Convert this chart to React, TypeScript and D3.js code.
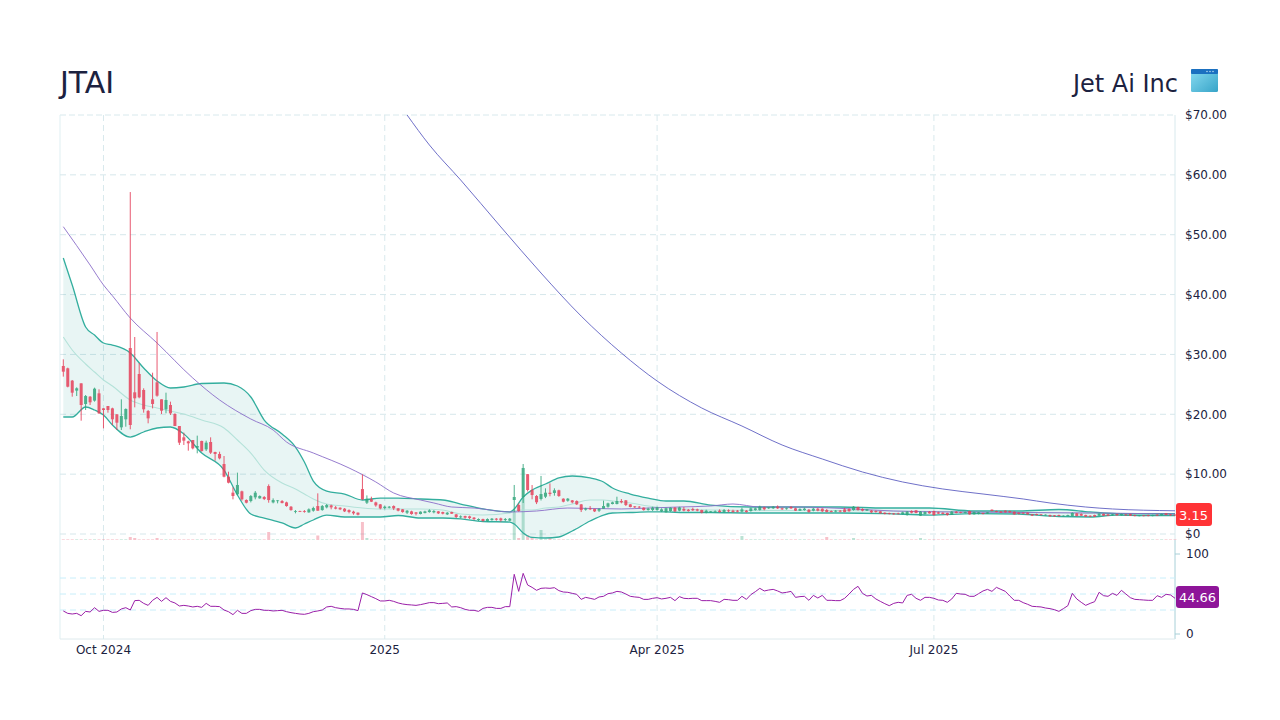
import * as d3 from "d3";

// daily candles, one entry per trading day
const opens = [
  28.07,27.68,25.62,23.95,25.17,21.72,22.94,22.28,23.5,20.99,21.38,20.99,19.99,17.82,19.16,31.07,23.67,26.73,24.06,20.55,
  22.5,25.34,22.5,20.83,21.55,20.05,18.04,16.15,15.48,15.7,14.42,15.54,14.14,15.37,13.7,13.37,11.69,9.58,6.91,6.63,7.13,5.68,
  5.51,6.12,5.95,6.18,8.01,5.28,5.51,5.51,5.28,4.56,3.73,3.84,3.84,3.61,3.89,4.67,4.0,4.45,4.78,4.45,4.39,4.23,4.0,3.73,3.56,
  7.51,5.23,5.79,5.28,4.95,4.34,4.39,4.67,4.28,4.12,3.56,3.78,3.61,3.34,3.5,3.67,
  3.62,3.78,3.67,3.28,3.67,3.28,2.78,3.0,2.95,2.73,2.33,2.5,2.17,2.33,2.56,2.61,2.33,2.22,
  5.68,4.84,6.18,10.0,7.35,6.35,5.85,6.23,6.9,6.85,7.3,5.9,5.56,5.62,5.51,4.95,4.06,4.28,4.17,3.9,
  4.23,4.56,5.01,5.01,5.51,5.62,4.95,4.62,4.56,4.4,4.0,
  4.01,4.01,3.79,3.62,3.84,4.4,3.9,4.18,4.06,4.18,4.12,4.01,3.56,3.62,3.67,3.9,3.67,3.95,3.9,3.9,
  3.73,3.9,3.84,4.01,4.01,4.45,4.29,4.29,4.56,4.29,4.18,4.51,4.29,3.9,4.01,4.06,3.9,4.23,4.23,4.01,
  3.84,3.73,3.9,4.12,4.18,4.01,4.51,4.18,3.9,3.9,3.84,3.79,3.56,
  3.51,3.45,3.45,3.34,3.17,3.84,3.95,3.06,3.34,3.73,3.84,3.62,3.56,3.51,3.23,3.73,3.67,3.51,3.84,3.28,
  3.34,3.51,3.4,4.06,3.84,3.78,3.9,3.84,3.73,3.56,3.56,3.56,3.28,
  3.34,3.28,3.12,3.17,3.12,3.17,2.95,3.0,3.0,3.45,3.34,3.17,3.06,3.17,3.06,3.34,3.28,3.12,3.34,3.12,
  3.28,3.34,3.17,3.0,3.12,3.17,3.0,3.23,3.12,3.45,3.28,3.23,
];
const highs = [
  29.18,27.79,25.73,24.5,25.17,23.22,23.05,24.45,24.17,20.99,21.38,21.1,20.05,22.5,20.99,57.13,32.91,28.57,24.34,20.72,
  26.95,33.75,22.5,23.61,22.11,20.16,18.04,16.93,15.59,15.7,16.43,15.59,15.59,16.15,13.75,13.75,13.03,10.41,7.8,10.25,7.24,5.79,
  6.51,7.18,6.45,6.34,8.29,5.95,5.67,5.67,5.4,4.67,4.0,3.89,4.0,4.28,4.56,6.79,4.84,5.01,4.9,4.67,4.45,4.34,4.12,3.89,3.61,
  9.96,6.45,6.23,5.4,5.01,4.73,4.67,4.78,4.34,4.17,4.0,3.89,3.67,3.78,3.89,4.12,
  4.0,3.84,3.73,3.67,3.73,3.34,3.11,3.06,3.06,2.84,2.61,2.56,2.61,2.67,2.67,2.73,2.67,2.67,
  8.19,5.12,11.69,10.0,8.18,6.51,9.7,7.63,8.46,7.63,7.4,5.96,6.01,5.68,5.62,5.01,4.4,4.67,4.28,4.34,
  5.57,5.23,5.4,6.23,5.84,5.68,5.01,4.67,4.67,4.45,4.4,
  4.56,4.56,4.29,4.4,4.45,4.51,4.56,4.51,4.18,4.4,4.23,4.06,4.06,3.84,3.95,4.12,4.18,4.12,4.06,4.01,
  4.4,4.01,4.4,4.4,4.73,4.56,4.51,4.67,4.78,4.4,4.4,4.67,4.4,4.29,4.4,4.18,4.34,4.34,4.29,4.18,
  3.95,4.01,4.01,4.4,4.29,4.67,4.56,4.29,4.18,4.01,3.95,3.84,3.62,
  3.56,3.51,3.56,3.73,3.84,3.95,4.01,3.84,3.78,3.84,3.9,3.73,3.62,3.56,3.84,3.84,3.73,3.73,3.9,3.73,
  3.67,3.56,3.67,4.12,3.9,3.84,3.95,3.9,3.78,3.62,3.62,3.62,3.34,
  3.4,3.34,3.28,3.23,3.17,3.23,3.12,3.23,3.62,3.51,3.45,3.23,3.12,3.23,3.45,3.45,3.34,3.34,3.4,3.4,
  3.34,3.4,3.23,3.17,3.17,3.23,3.23,3.28,3.4,3.51,3.34,3.28,
];
const lows = [
  26.29,24.5,22.94,23.05,18.93,20.72,21.55,22.11,20.05,17.65,20.27,18.21,17.37,17.37,17.93,17.49,21.16,22.67,20.27,18.49,
  20.99,22.94,20.05,20.16,19.88,18.04,14.87,14.87,13.92,14.14,13.48,13.75,13.87,13.37,12.25,12.47,9.47,8.46,5.79,6.46,5.57,5.12,
  5.28,5.79,5.9,5.67,5.23,5.12,5.12,5.12,4.56,3.89,3.45,3.67,3.56,3.56,3.73,3.89,3.89,4.28,4.12,4.12,4.0,3.67,3.45,3.22,3.11,
  5.67,5.01,5.34,4.56,4.12,4.12,4.28,4.0,3.78,3.56,3.34,3.22,3.11,3.28,3.45,3.56,
  3.45,3.34,3.28,3.17,3.34,2.67,2.61,2.56,2.5,2.33,2.17,2.06,2.06,2.22,2.22,2.06,2.11,2.11,
  3.67,3.73,5.18,7.1,5.8,5.0,5.6,6.0,6.3,6.4,6.2,5.29,5.4,5.12,4.84,3.67,3.9,4.0,3.67,3.67,
  4.23,4.4,4.95,4.95,5.12,4.67,4.45,4.34,4.28,3.9,3.9,
  3.84,3.9,3.67,3.56,3.73,3.67,3.79,3.79,3.73,3.84,3.79,3.45,3.45,3.56,3.56,3.56,3.56,3.62,3.56,3.62,
  3.62,3.56,3.73,3.9,3.9,3.95,4.18,4.18,4.18,4.01,4.06,4.18,3.84,3.84,3.9,3.56,3.79,3.79,3.67,3.62,
  3.62,3.62,3.62,3.62,3.73,3.9,3.9,3.79,3.84,3.51,3.56,3.4,3.28,
  3.28,3.23,3.28,3.28,3.06,3.45,3.45,3.0,3.28,3.4,3.06,3.34,3.28,3.06,3.17,3.45,3.45,3.45,3.23,3.23,
  3.28,3.28,3.34,3.78,3.62,3.51,3.56,3.56,3.23,3.28,3.34,3.23,3.0,
  3.12,3.12,3.06,2.89,2.89,2.95,2.89,2.95,2.95,2.95,3.0,2.84,2.84,2.84,3.0,3.0,3.0,3.06,3.06,3.06,
  3.06,3.0,2.95,2.95,2.95,2.95,2.95,3.0,3.06,3.12,3.06,3.06,
];
const closes = [
  27.12,24.61,23.61,24.34,21.55,23.05,22.0,24.28,20.16,20.72,20.72,19.16,18.6,19.71,20.88,18.21,22.67,22.83,20.83,19.32,
  21.72,23.11,20.6,22.39,20.16,18.04,15.26,15.59,15.15,14.31,14.7,13.87,15.26,13.59,13.37,12.64,9.58,8.57,6.35,8.19,5.79,5.23,
  6.34,6.9,6.34,5.84,5.67,5.67,5.62,5.17,4.67,4.0,3.84,3.73,3.73,4.12,4.34,3.89,4.67,4.84,4.45,4.23,4.12,3.78,3.67,3.45,3.22,
  5.79,5.9,5.4,4.78,4.28,4.56,4.56,4.28,3.89,3.67,3.89,3.34,3.39,3.73,3.78,3.95,
  3.84,3.45,3.39,3.56,3.39,2.84,2.95,2.73,2.67,2.5,2.5,2.17,2.5,2.56,2.39,2.28,2.5,2.56,
  6.18,3.84,11.03,7.35,6.51,5.3,6.68,6.9,6.68,7.3,6.35,5.4,5.9,5.29,4.95,4.0,4.28,4.12,3.78,4.17,
  4.67,5.12,5.29,5.51,5.29,4.84,4.51,4.45,4.45,4.0,4.23,
  4.4,4.45,4.12,4.29,4.4,3.79,4.45,3.9,3.84,3.95,3.9,3.56,3.9,3.79,3.79,3.67,4.01,3.79,3.67,3.73,
  4.12,3.67,4.29,4.29,4.56,4.12,4.45,4.56,4.29,4.12,4.29,4.29,3.9,4.18,4.23,3.67,4.23,3.9,3.79,3.67,
  3.67,3.9,3.73,3.67,3.79,4.56,4.01,3.9,4.12,3.62,3.67,3.45,3.34,
  3.34,3.28,3.34,3.62,3.73,3.56,3.51,3.73,3.67,3.45,3.17,3.4,3.34,3.17,3.73,3.51,3.56,3.67,3.28,3.67,
  3.62,3.34,3.62,3.84,3.67,3.56,3.62,3.62,3.28,3.34,3.4,3.28,3.06,
  3.17,3.17,3.23,2.95,2.95,3.0,3.06,3.17,3.51,3.0,3.06,2.89,2.89,2.89,3.4,3.06,3.06,3.28,3.12,3.34,
  3.12,3.06,3.0,3.12,3.0,3.0,3.17,3.06,3.34,3.17,3.12,3.15,
];

// traded volume in arbitrary units, only the days that stand out
const baseVolume = 1;
const volumeDays = [15, 16, 21, 46, 57, 67, 68, 101, 102, 103, 104, 105, 107, 109, 152, 171, 177, 192];
const volumeValues = [3, 2, 2, 8, 4.5, 18, 2, 30, 2, 43, 5, 2, 10, 2, 4, 3, 2, 2];

// bollinger bands, read at these days
const bandDays = [
  0,2,5,7,9,11,15,18,21,24,27,31,36,39,42,45,49,52,54,56,59,63,67,71,75,80,85,89,94,100,
  101,103,105,108,111,114,118,121,123,127,131,135,139,145,154,164,174,184,194,204,214,223,230,236,242,249,
];
const bandUpper = [
  46.11,41.6,34.58,33.24,31.91,31.57,30.24,27.73,25.56,24.39,24.56,25.14,25.23,24.72,22.89,19.04,16.71,14.53,12.03,8.85,
  7.18,6.68,5.68,6.01,6.01,5.85,5.68,5.01,4.18,3.68,4.18,6.18,7.35,8.35,9.36,9.69,9.36,8.69,7.68,6.68,
  6.01,5.51,5.51,4.84,4.51,4.51,4.51,4.34,4.34,3.84,3.84,4.09,3.68,3.42,3.42,3.42,
];
const bandMiddle = [
  32.91,30.74,28.4,27.06,25.73,24.72,22.39,21.55,21.05,20.55,20.05,19.04,17.71,15.7,13.53,10.69,8.52,7.52,6.68,5.85,
  5.01,4.68,4.34,4.18,4.18,4.18,4.01,3.34,3.17,3.51,3.84,4.01,4.01,4.34,4.51,5.01,5.68,5.68,5.51,5.18,
  4.68,4.34,4.18,4.01,3.93,3.93,3.93,3.84,3.76,3.68,3.59,3.51,3.42,3.34,3.34,3.26,
];
const bandLower = [
  19.55,19.55,21.22,20.72,19.88,18.21,16.2,17.04,17.71,17.88,16.71,13.53,10.69,6.52,3.34,2.67,1.84,1.0,1.67,2.34,
  3.17,2.84,2.84,2.84,3.09,2.67,2.67,2.51,2.09,2.0,1.67,0.17,-0.58,-0.67,-0.5,0.5,2.17,3.17,3.51,3.59,
  3.68,3.68,3.59,3.59,3.51,3.51,3.51,3.42,3.17,3.42,3.34,2.92,2.84,3.17,3.09,3.09,
];

const sma50Days = [0,6,9,11,15,21,29,35,42,47,50,56,64,70,74,80,83,87,92,100,106,113,125,131,138,145,150,156,164,177,186,199,215,232,249];
const sma50 = [51.34,44.94,41.6,39.8,36.08,31.91,26.06,22.39,19.21,17.37,15.37,13.53,11.03,8.69,6.85,5.68,5.18,4.51,4.34,3.68,3.84,4.34,4.18,4.34,4.51,4.68,5.01,4.51,4.51,4.18,3.84,3.68,3.59,3.51,3.34];

const sma200Days = [77,82,89,98,107,116,125,133,143,152,161,170,179,188,197,206,215,221,229,235,249];
const sma200 = [70,64.99,59.14,51.3,43.6,36.4,30.24,25.56,21.05,18.04,14.87,12.53,10.36,8.69,7.52,6.68,5.85,5.18,4.51,4.18,3.88];

// one RSI value per trading day
const rsi = [
  28.8,25.8,25,25.8,22.9,28.3,27.5,32.9,28.3,29.6,29.6,27,27.5,31.3,32.9,30,41.7,42.1,38.3,35.8,
  42.1,45.8,40.8,45.4,40.8,38.8,35,35.8,35,33.8,34.6,33.3,38.3,34.6,34.6,34.2,30,27.9,24.2,29.6,
  25.8,25.8,29.2,30.8,30.8,29.6,29.6,28.8,29.2,29.6,27.9,26.7,25.8,25,24.6,25.8,27.9,28.8,30,33.8,
  34.6,32.9,32,31.3,31.3,30.8,29.2,51.3,49.2,46.7,44.2,41.3,41.3,42.1,40.8,38.8,37.5,36.7,36.3,35.8,
  36.7,37.9,39.2,39.2,37.9,38.3,38.8,33.8,34.2,32.9,30.8,29.6,29.6,28.3,32,33.3,33.3,32,32,
  34.2,34.2,74.6,53.3,75.8,61.3,58.3,54.6,57.1,57.5,57.1,57.9,54.2,52.5,52.1,50.8,49.6,43.3,45.8,44.6,
  43.3,46.3,47.1,50.4,51.3,53.3,52.5,50,47.1,46.3,45.8,43.3,43.3,44.6,45.4,43.8,44.6,45.8,41.7,46.7,
  44.6,44.2,44.6,44.6,41.7,41.7,41.7,40.8,39.6,43.3,42.9,42.1,42.1,47.1,43.3,49.2,52.9,57.1,53.8,55,
  55.8,53.8,51.3,52.1,53.3,45.8,46.7,47.1,42.1,48.3,45,48.3,42.1,42.1,41.7,41.7,44.6,50,55.8,59.6,
  50.8,47.5,48.3,43.8,40.8,37.9,35.4,38.3,39.6,38.8,48.3,49.6,44.6,42.1,45.8,45.8,44.6,42.5,42.1,39.6,
  43.8,50.8,50,49.6,47.1,47.1,50.4,53.8,55.8,53.3,58.3,55.8,53.3,47.5,42.1,42.1,39.2,37.1,34.6,34.2,
  33.8,32.5,31.7,30.4,28.3,31.7,35.4,50.8,43.8,39.6,35.8,38.3,40.4,52.1,47.9,47.1,50.8,48.3,54.6,50,
  45.4,43.3,42.9,42.5,42.1,42.1,47.9,45.8,49.6,48.8,44.66,
];

const priceTicks = [70, 60, 50, 40, 30, 20, 10, 0];
const priceTickLabels = ["$70.00", "$60.00", "$50.00", "$40.00", "$30.00", "$20.00", "$10.00", "$0"];
const rsiGrid = [70, 50, 30];
const rsiTicks = [100, 0];
const dateTickDays = [9, 72, 133, 195];
const dateTickLabels = ["Oct 2024", "2025", "Apr 2025", "Jul 2025"];

const ink = "#1c2240";
const up = "#2fa57a";
const down = "#e63f59";
const font = "'DejaVu Sans', sans-serif";

export default function App() {
  const left = 60, right = 1175, top = 115, split = 540, bottom = 639;

  const x = d3.scaleLinear([0, 249], [63.3, 1175]);
  const y = d3.scaleLinear([0, 70], [534, 115]);
  const yVol = d3.scaleLinear([0, 100], [split, split - 100]);
  const yRsi = d3.scaleLinear([0, 100], [634, 554]);

  const area = d3.area<number>()
    .x((d) => x(d))
    .y0((_, i) => y(bandLower[i]))
    .y1((_, i) => y(bandUpper[i]))
    .curve(d3.curveMonotoneX);
  const bandLine = (values: number[]) =>
    d3.line<number>((d) => x(d), (_, i) => y(values[i])).curve(d3.curveMonotoneX)(bandDays) as string;
  const maLine = (days: number[], values: number[]) =>
    d3.line<number>((d) => x(d), (_, i) => y(values[i])).curve(d3.curveMonotoneX)(days) as string;
  const rsiLine = d3.line<number>((_, i) => x(i), (d) => yRsi(d));

  return (
    <svg width={1280} height={720} style={{ position: "absolute", left: 0, top: 0, fontFamily: font }}>
      <defs>
        <linearGradient id="icon" x1="0" y1="0" x2="1" y2="1">
          <stop offset="0%" stopColor="#8adcf2" />
          <stop offset="100%" stopColor="#37a4c8" />
        </linearGradient>
      </defs>

      <text x={60} y={93} fontSize={30} fill={ink}>JTAI</text>
      <text x={1178} y={92} fontSize={24} fill={ink} textAnchor="end">Jet Ai Inc</text>
      <rect x={1191} y={69} width={27} height={23} rx={1.5} fill="url(#icon)" />
      <rect x={1191} y={69} width={27} height={5} rx={1} fill="#1b70c0" />
      {[1207, 1210, 1213].map((d) => (
        <circle key={d} cx={d} cy={71.5} r={0.7} fill="#cfe9f7" />
      ))}

      {/* frame */}
      <line x1={left} x2={right} y1={top} y2={top} stroke="#d8e9ed" strokeDasharray="6 3" />
      <line x1={left} x2={left} y1={top} y2={bottom} stroke="#dfeff2" />
      <line x1={right} x2={right} y1={top} y2={split} stroke="#d8e9ed" />
      <line x1={right} x2={right} y1={split} y2={bottom} stroke="#a8d0d8" />
      <line x1={left} x2={right} y1={bottom} y2={bottom} stroke="#deeaed" />

      {/* grid */}
      {priceTicks.slice(1).map((d) => (
        <line key={d} x1={left} x2={right} y1={y(d)} y2={y(d)} stroke="#d6e7eb" strokeDasharray="6 4" />
      ))}
      {rsiGrid.map((d) => (
        <line key={d} x1={left} x2={right} y1={yRsi(d)} y2={yRsi(d)} stroke="#c8eefa" strokeDasharray="6 4" />
      ))}
      {dateTickDays.map((d) => (
        <line key={d} x1={x(d)} x2={x(d)} y1={top} y2={bottom} stroke="#d8e9ed" strokeDasharray="6 4" />
      ))}

      {/* volume */}
      {opens.map((o, i) => {
        const k = volumeDays.indexOf(i);
        const v = k >= 0 ? volumeValues[k] : baseVolume;
        return (
          <rect key={i} x={x(i) - 1.5} width={3} y={yVol(v)} height={yVol(0) - yVol(v)}
            fill={closes[i] >= o ? up : down} opacity={k >= 0 ? 0.32 : 0.2} />
        );
      })}

      {/* bollinger */}
      <path d={area(bandDays) as string} fill="#1f9e8f" fillOpacity={0.1} />
      <path d={bandLine(bandMiddle)} fill="none" stroke="#b4e2d9" strokeWidth={1.1} />
      <path d={bandLine(bandUpper)} fill="none" stroke="#33ae9e" strokeWidth={1.3} />
      <path d={bandLine(bandLower)} fill="none" stroke="#33ae9e" strokeWidth={1.3} />

      {/* moving averages */}
      <path d={maLine(sma50Days, sma50)} fill="none" stroke="#8a6dc8" strokeWidth={0.9} />
      <path d={maLine(sma200Days, sma200)} fill="none" stroke="#5f60c2" strokeWidth={0.9} />

      {/* candles */}
      {opens.map((o, i) => {
        const c = closes[i];
        const col = c >= o ? up : down;
        const t = y(Math.max(o, c));
        const h = Math.max(y(Math.min(o, c)) - t, 0.8);
        return (
          <g key={i} opacity={0.85}>
            <line x1={x(i)} x2={x(i)} y1={y(highs[i])} y2={y(lows[i])} stroke={col} strokeWidth={1} />
            <rect x={x(i) - 1.5} width={3} y={t} height={h} fill={col} />
          </g>
        );
      })}

      {/* rsi */}
      <path d={rsiLine(rsi) as string} fill="none" stroke="#9a1fa8" strokeWidth={1} />

      {/* axes */}
      {priceTicks.map((d, i) => (
        <text key={d} x={1185} y={y(d)} dy="0.36em" fontSize={12} fill={ink}>{priceTickLabels[i]}</text>
      ))}
      {rsiTicks.map((d) => (
        <g key={d}>
          <line x1={right} x2={right + 5} y1={yRsi(d)} y2={yRsi(d)} stroke="#a8d0d8" />
          <text x={1186} y={yRsi(d)} dy="0.36em" fontSize={12} fill={ink}>{d}</text>
        </g>
      ))}
      {dateTickDays.map((d, i) => (
        <text key={d} x={x(d)} y={654} fontSize={12} fill={ink} textAnchor="middle">{dateTickLabels[i]}</text>
      ))}

      {/* last value tags */}
      <rect x={1176} y={503} width={36} height={23} rx={3} fill="#ff3336" />
      <text x={1193.5} y={515} dy="0.36em" fontSize={13} fill="#fff" textAnchor="middle">{closes[closes.length - 1].toFixed(2)}</text>
      <rect x={1176} y={586} width={43} height={22} rx={3} fill="#8e1599" />
      <text x={1197.5} y={597.5} dy="0.36em" fontSize={13} fill="#fff" textAnchor="middle">{rsi[rsi.length - 1].toFixed(2)}</text>
    </svg>
  );
}
